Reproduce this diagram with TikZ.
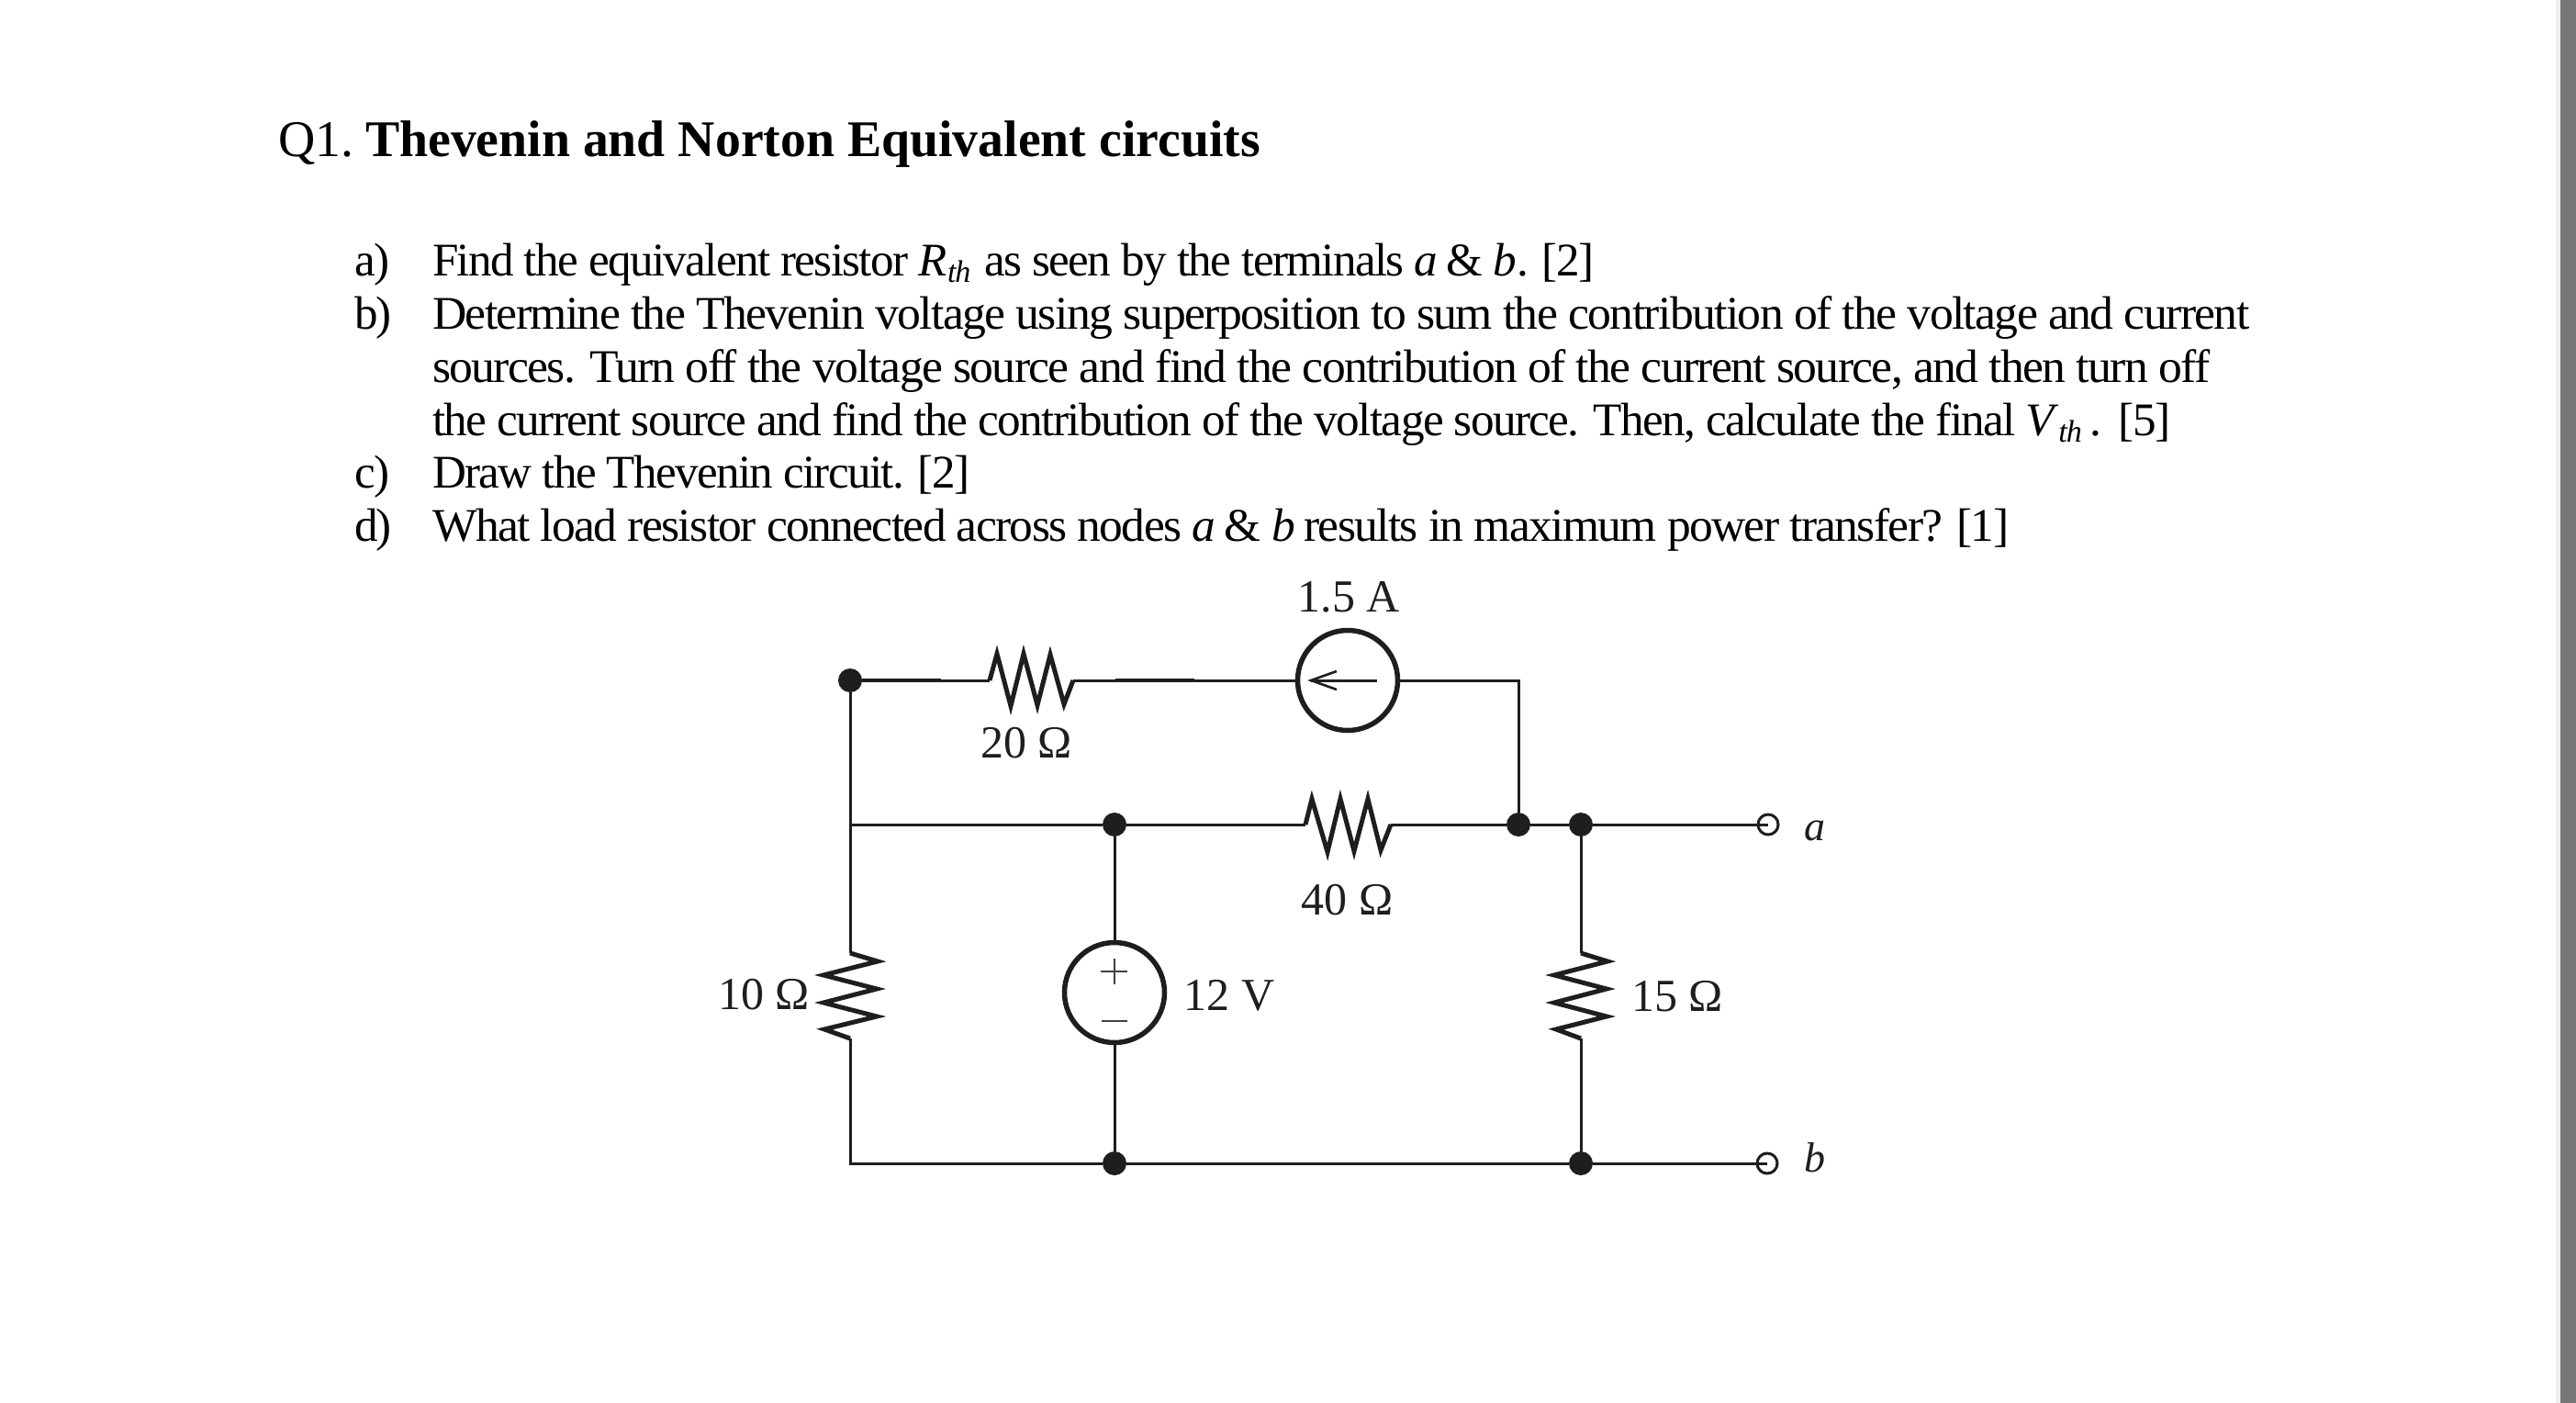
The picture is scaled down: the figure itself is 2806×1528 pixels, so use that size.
\documentclass[tikz,border=0pt]{standalone}
\usepackage{fontspec}
\usepackage{graphicx}
\setmainfont{Liberation Serif}
\definecolor{ink}{HTML}{1E1E1E}
\definecolor{barc}{HTML}{767676}
\definecolor{barl}{HTML}{EFEFEF}
\newcommand\fitw[2]{\resizebox{#1pt}{\height}{#2}}
\newcommand\subth{\raisebox{-7pt}{\fontsize{34}{34}\selectfont\itshape th}}
\tikzset{
  body/.style={anchor=base west,inner sep=0pt,outer sep=0pt,text=black,font=\fontsize{51}{58}\selectfont\addfontfeatures{LetterSpace=-3.2}},
  titletext/.style={anchor=base west,inner sep=0pt,outer sep=0pt,text=black,font=\fontsize{56}{60}\selectfont},
  clabel/.style={anchor=base,inner sep=0pt,outer sep=0pt,text=ink,font=\fontsize{50}{54}\selectfont},
  term/.style={anchor=base,inner sep=0pt,outer sep=0pt,text=ink,font=\fontsize{46}{54}\selectfont\itshape},
  wire/.style={draw=ink,line width=3pt},
  thickwire/.style={draw=ink,line width=4.4pt},
  zig/.style={draw=ink,line width=5pt,line join=miter,miter limit=8},
  jdot/.style={circle,fill=ink,draw=none,minimum size=26pt,inner sep=0pt,outer sep=0pt},
  opendot/.style={circle,fill=white,draw=ink,line width=3pt,minimum size=22pt,inner sep=0pt,outer sep=0pt},
  source/.style={circle,fill=white,draw=ink,line width=5.5pt,minimum size=109pt,inner sep=0pt,outer sep=0pt},
  sign/.style={draw=ink!85,line width=2.6pt},
}
\begin{document}
\begin{tikzpicture}[x=1pt,y=-1pt]
\useasboundingbox (0,0) rectangle (2806,1528);
\fill[white] (0,0) rectangle (2806,1528);
\fill[barl] (2784,0) rectangle (2789,1528);
\fill[barc] (2789,0) rectangle (2806,1528);

% question text
\node[titletext] (title) at (303,170) {\fitw{1070}{Q1.\hspace{13pt}\textbf{Thevenin and Norton Equivalent circuits}}};
\node[body] (la) at (386,300.5) {a)};
\node[body] (ta) at (471,300.5) {\fitw{1265}{Find the equivalent resistor \textit{R}\hspace{2pt}\subth{}\hspace{4pt} as seen by the terminals \textit{a} \& \textit{b}. [2]}};
\node[body] (lb) at (386,358) {b)};
\node[body] (tb1) at (471,358) {\fitw{1979}{Determine the Thevenin voltage using superposition to sum the contribution of the voltage and current}};
\node[body] (tb2) at (471,416) {\fitw{1936}{sources. Turn off the voltage source and find the contribution of the current source, and then turn off}};
\node[body] (tb3) at (471,474) {\fitw{1893}{the current source and find the contribution of the voltage source. Then, calculate the final \textit{V}\hspace{1pt}\subth{}\hspace{9pt}.\hspace{3pt} [5]}};
\node[body] (lc) at (386,531.5) {c)};
\node[body] (tc) at (471,531.5) {\fitw{585}{Draw the Thevenin circuit. [2]}};
\node[body] (ld) at (386,589) {d)};
\node[body] (td) at (471,589) {\fitw{1717}{What load resistor connected across nodes \textit{a} \& \textit{b} results in maximum power transfer? [1]}};

% junctions and terminals
\node[jdot] (tl) at (926,741) {};
\node[jdot] (m1) at (1214,898) {};
\node[jdot] (m2) at (1654,898) {};
\node[jdot] (m3) at (1722,898) {};
\node[jdot] (b1) at (1214,1267) {};
\node[jdot] (b2) at (1722,1267) {};
\coordinate (ml) at (926,898);
\coordinate (bl) at (926,1267);
\coordinate (tr) at (1654,741);

% wires
\coordinate (r20a) at (1078,741);
\coordinate (r20b) at (1169,741);
\coordinate (r40a) at (1422,898);
\coordinate (r40b) at (1515,898);
\coordinate (r10a) at (926,1038);
\coordinate (r10b) at (926,1131);
\coordinate (r15a) at (1722,1038);
\coordinate (r15b) at (1722,1131);

\node[source] (cs) at (1468,741) {};
\node[source] (vs) at (1214,1081) {};
\coordinate (tk1) at (1025,741);
\coordinate (tk2) at (1215,741);
\coordinate (tk3) at (1301,741);

\draw[thickwire] (tl) -- (tk1);
\draw[wire] (tk1) -- (r20a);
\draw[wire] (r20b) -- (tk2);
\draw[thickwire] (tk2) -- (tk3);
\draw[wire] (tk3) -- (cs.west);
\draw[wire] (cs.east) -- (tr) -- (m2);
\draw[wire] (tl) -- (ml) -- (m1);
\draw[wire] (m1) -- (r40a);
\draw[wire] (r40b) -- (m2);
\draw[wire] (m2) -- (m3);
\draw[wire] (ml) -- (r10a);
\draw[wire] (r10b) -- (bl) -- (b1);
\draw[wire] (b1) -- (b2);
\draw[wire] (m1) -- (vs.north);
\draw[wire] (vs.south) -- (b1);
\draw[wire] (m3) -- (r15a);
\draw[wire] (r15b) -- (b2);

% resistors
\draw[zig] (r20a) -- (1086,712) -- (1101,769) -- (1115,712) -- (1130,768) -- (1144,713) -- (1159,767) -- (r20b);
\draw[zig] (r40a) -- (1429,870) -- (1446,928) -- (1460,870) -- (1475,927) -- (1490,870) -- (1504,926) -- (r40b);
\draw[zig] (r10a) -- (956,1047) -- (897,1062) -- (955,1077) -- (897,1092) -- (955,1107) -- (898,1121) -- (r10b);
\draw[zig] (r15a) -- (1751,1047) -- (1693,1062) -- (1750,1077) -- (1693,1092) -- (1750,1107) -- (1695,1121) -- (r15b);

% terminals
\node[opendot] (ta1) at (1926,898) {};
\node[opendot] (tb) at (1925,1267) {};
\coordinate (ta1w) at (1926,898);
\coordinate (tbw) at (1925,1267);
\draw[wire] (m3) -- (ta1w);
\draw[wire] (b2) -- (tbw);

% source symbols
\coordinate (arT) at (1500,741);
\coordinate (arH) at (1428,741);
\coordinate (arU) at (1456,731);
\coordinate (arD) at (1456,751);
\draw[wire] (arT) -- (arH);
\draw[draw=ink,line width=2.6pt] (arU) -- (arH) -- (arD);
\coordinate (pT) at (1214,1044);
\coordinate (pB) at (1214,1072);
\coordinate (pL) at (1199,1058);
\coordinate (pR) at (1228,1058);
\coordinate (mL) at (1200,1112);
\coordinate (mR) at (1228,1112);
\draw[sign] (pT) -- (pB);
\draw[sign] (pL) -- (pR);
\draw[sign] (mL) -- (mR);

% labels
\node[clabel] (l15a) at (1469.5,666) {1.5 A};
\node[clabel] (l20) at (1118,825) {20 Ω};
\node[clabel] (l40) at (1467.5,996) {40 Ω};
\node[clabel] (l10) at (832,1099) {10 Ω};
\node[clabel] (l12) at (1339,1100) {12 V};
\node[clabel] (l15) at (1827,1101) {15 Ω};
\node[term] (la2) at (1977,915) {a};
\node[term] (lb2) at (1977,1276) {b};
\end{tikzpicture}
\end{document}
